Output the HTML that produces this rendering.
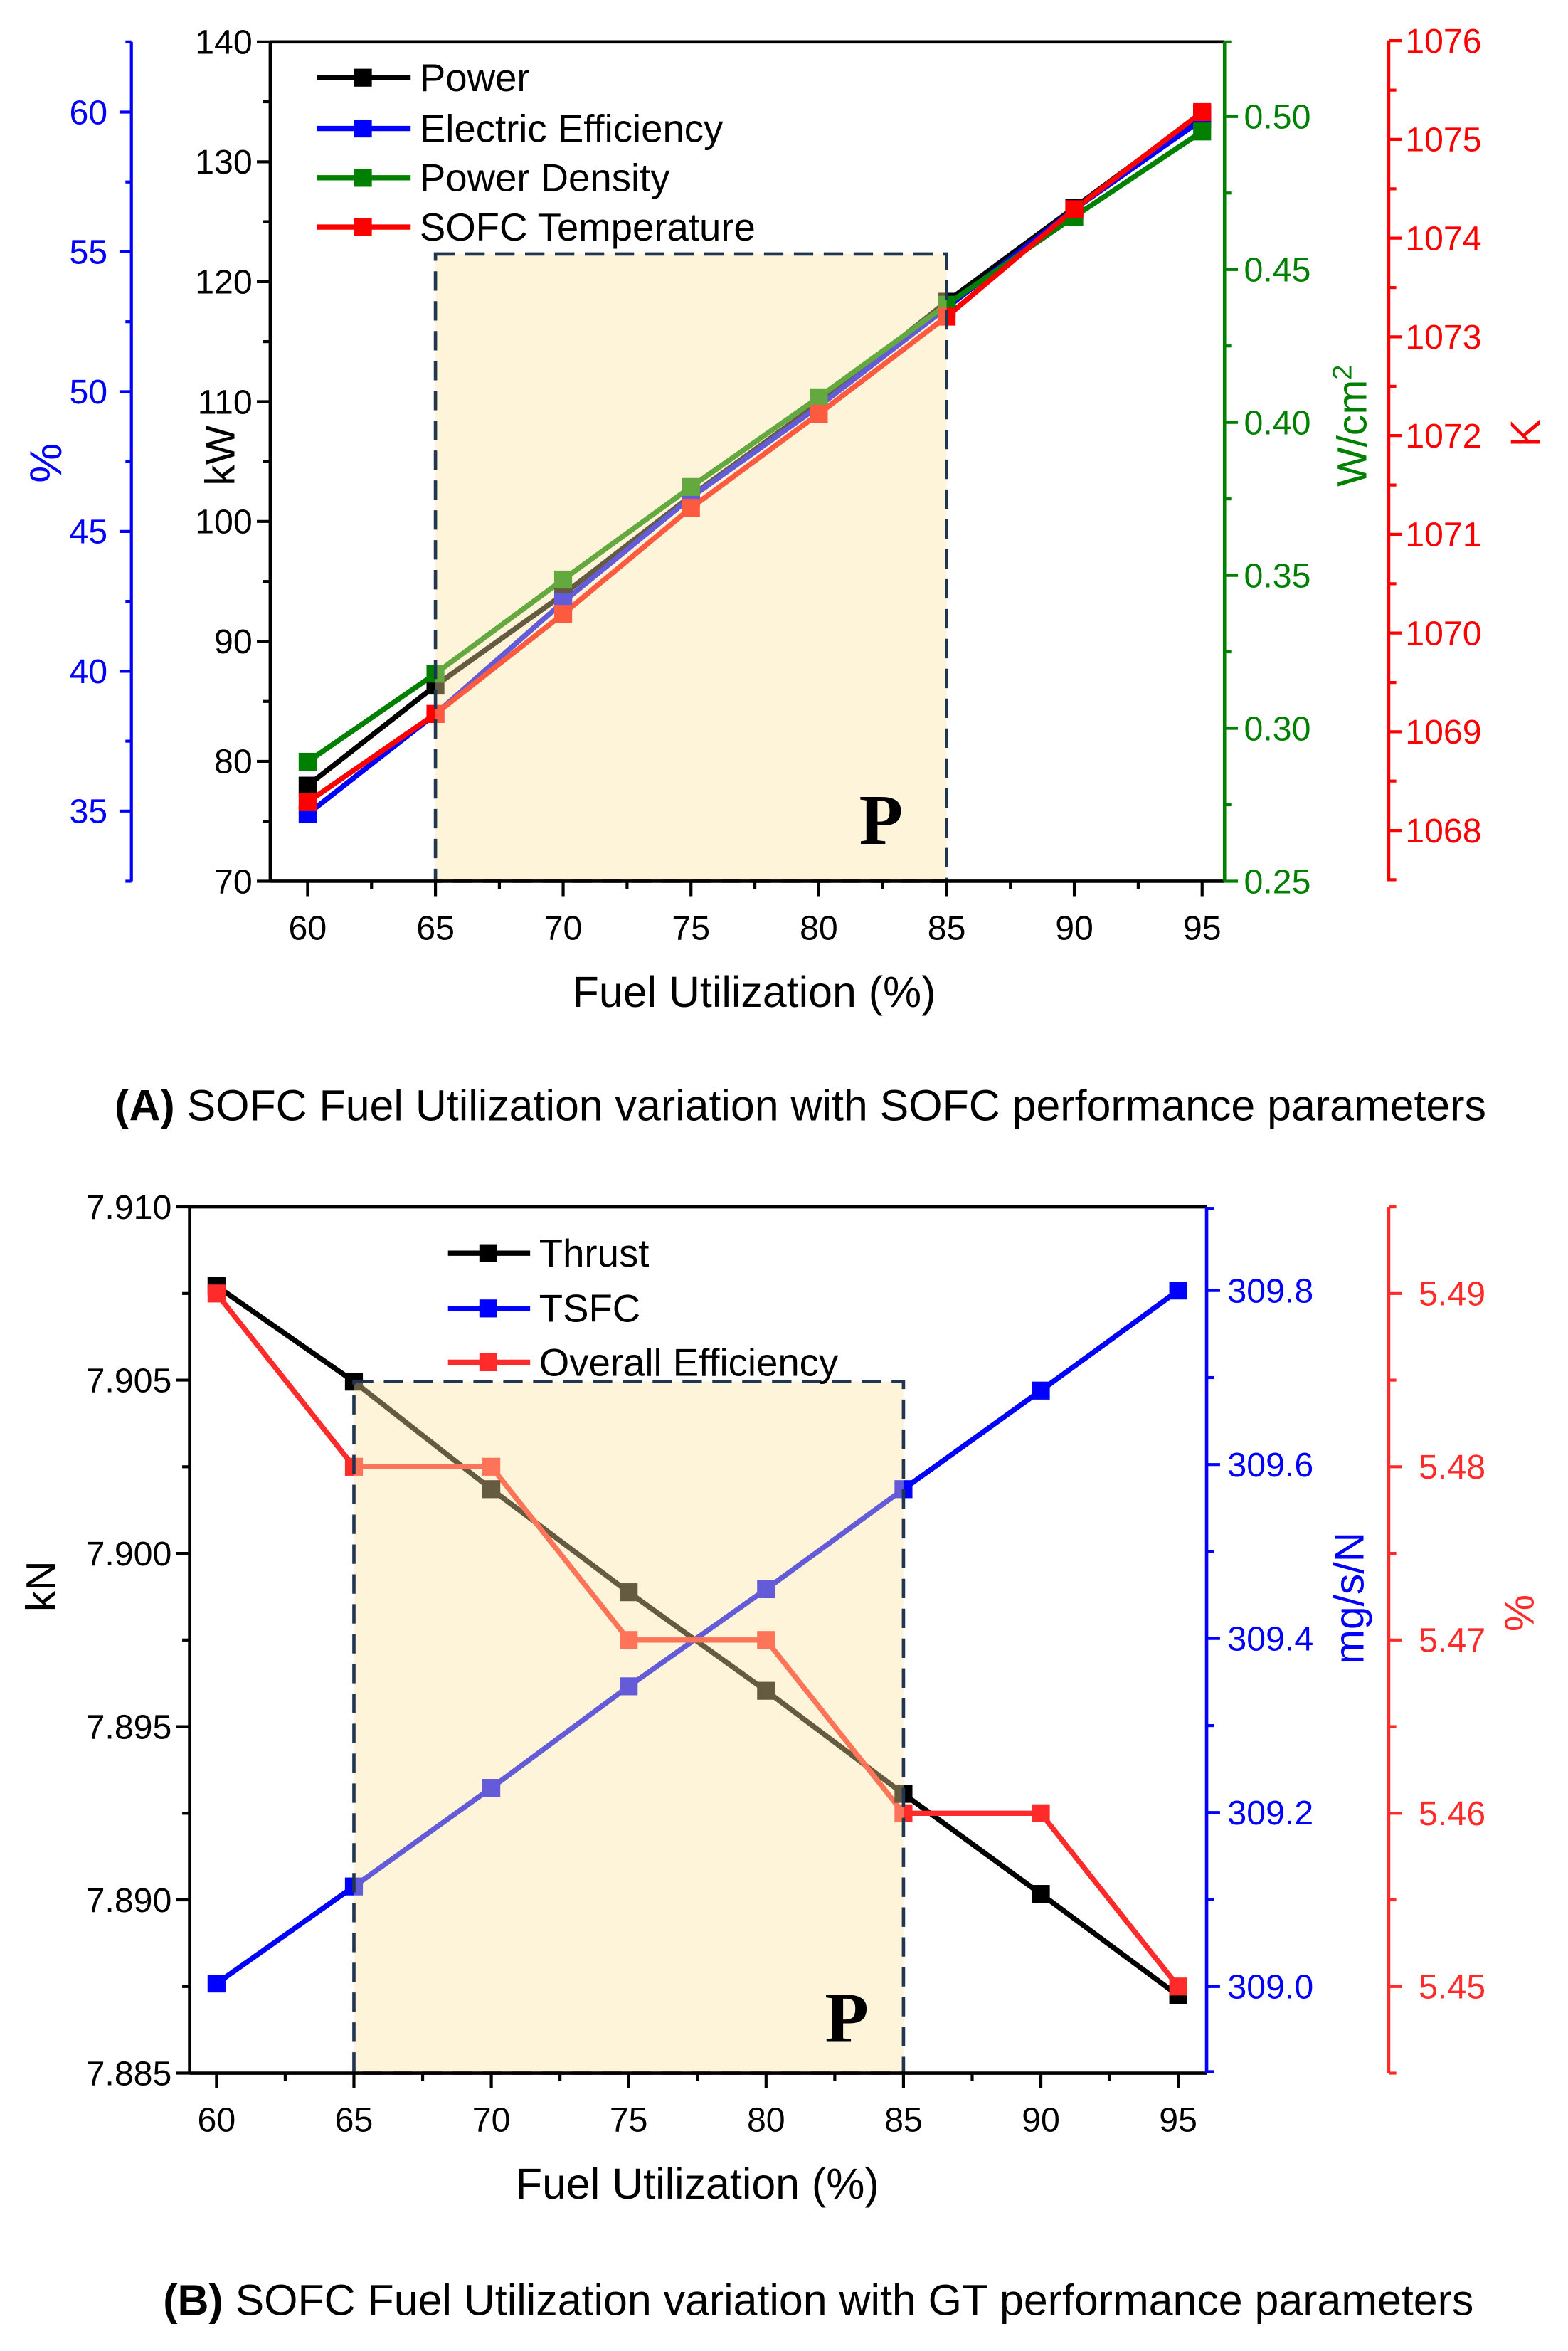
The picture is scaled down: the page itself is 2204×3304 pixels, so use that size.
<!DOCTYPE html>
<html><head><meta charset="utf-8"><style>html,body{margin:0;padding:0;background:#fff}svg{display:block}</style></head><body>
<svg xmlns="http://www.w3.org/2000/svg" width="2204" height="3304" viewBox="0 0 1050 1574" font-family="Liberation Sans, Arial, sans-serif">
<rect width="1050" height="1574" fill="#fff"/>
<!-- ================= PANEL A ================= -->
<g stroke-width="3.5" fill="none" stroke-linejoin="round">
<polyline stroke="#000" points="206,526 291.6,459 377.1,398 462.7,332 548.3,270 633.9,202 719.4,139 805,76"/>
<polyline stroke="#0000ff" points="206,545 291.6,478 377.1,403 462.7,333 548.3,272 633.9,206 719.4,140 805,80"/>
<polyline stroke="#008000" points="206,510 291.6,451 377.1,388 462.7,326 548.3,266 633.9,204 719.4,145 805,88"/>
<polyline stroke="#ff0000" points="206,537 291.6,478 377.1,411 462.7,340 548.3,277 633.9,212 719.4,140 805,75"/>
</g>
<g fill="#000"><rect x="200" y="520" width="12" height="12"/><rect x="285.6" y="453" width="12" height="12"/><rect x="371.1" y="392" width="12" height="12"/><rect x="456.7" y="326" width="12" height="12"/><rect x="542.3" y="264" width="12" height="12"/><rect x="627.9" y="196" width="12" height="12"/><rect x="713.4" y="133" width="12" height="12"/><rect x="799" y="70" width="12" height="12"/></g>
<g fill="#0000ff"><rect x="200" y="539" width="12" height="12"/><rect x="285.6" y="472" width="12" height="12"/><rect x="371.1" y="397" width="12" height="12"/><rect x="456.7" y="327" width="12" height="12"/><rect x="542.3" y="266" width="12" height="12"/><rect x="627.9" y="200" width="12" height="12"/><rect x="713.4" y="134" width="12" height="12"/><rect x="799" y="74" width="12" height="12"/></g>
<g fill="#008000"><rect x="200" y="504" width="12" height="12"/><rect x="285.6" y="445" width="12" height="12"/><rect x="371.1" y="382" width="12" height="12"/><rect x="456.7" y="320" width="12" height="12"/><rect x="542.3" y="260" width="12" height="12"/><rect x="627.9" y="198" width="12" height="12"/><rect x="713.4" y="139" width="12" height="12"/><rect x="799" y="82" width="12" height="12"/></g>
<g fill="#ff0000"><rect x="200" y="531" width="12" height="12"/><rect x="285.6" y="472" width="12" height="12"/><rect x="371.1" y="405" width="12" height="12"/><rect x="456.7" y="334" width="12" height="12"/><rect x="542.3" y="271" width="12" height="12"/><rect x="627.9" y="206" width="12" height="12"/><rect x="713.4" y="134" width="12" height="12"/><rect x="799" y="69" width="12" height="12"/></g>
<rect x="291.6" y="170" width="342.3" height="420" fill="#fbe3a0" fill-opacity="0.4"/>
<rect x="291.6" y="170" width="342.3" height="420" fill="none" stroke="#1f3550" stroke-width="2.2" stroke-dasharray="13,7"/>
<text x="590" y="565" font-family="Liberation Serif, serif" font-weight="bold" font-size="48" text-anchor="middle">P</text>
<line x1="181" y1="28" x2="820" y2="28" stroke="#000" stroke-width="2.2"/>
<line x1="181" y1="28" x2="181" y2="590" stroke="#000" stroke-width="2.2"/>
<line x1="181" y1="590" x2="820" y2="590" stroke="#000" stroke-width="2.2"/>
<line x1="820" y1="28" x2="820" y2="590" stroke="#008000" stroke-width="2.2"/>
<g stroke="#000" stroke-width="2">
<line x1="172" y1="28" x2="181" y2="28"/><line x1="172" y1="108.3" x2="181" y2="108.3"/><line x1="172" y1="188.6" x2="181" y2="188.6"/><line x1="172" y1="268.9" x2="181" y2="268.9"/><line x1="172" y1="349.1" x2="181" y2="349.1"/><line x1="172" y1="429.4" x2="181" y2="429.4"/><line x1="172" y1="509.7" x2="181" y2="509.7"/><line x1="172" y1="590" x2="181" y2="590"/>
<line x1="176" y1="68.1" x2="181" y2="68.1"/><line x1="176" y1="148.4" x2="181" y2="148.4"/><line x1="176" y1="228.7" x2="181" y2="228.7"/><line x1="176" y1="309" x2="181" y2="309"/><line x1="176" y1="389.3" x2="181" y2="389.3"/><line x1="176" y1="469.6" x2="181" y2="469.6"/><line x1="176" y1="549.9" x2="181" y2="549.9"/>
<line x1="206" y1="590" x2="206" y2="600"/><line x1="291.6" y1="590" x2="291.6" y2="600"/><line x1="377.1" y1="590" x2="377.1" y2="600"/><line x1="462.7" y1="590" x2="462.7" y2="600"/><line x1="548.3" y1="590" x2="548.3" y2="600"/><line x1="633.9" y1="590" x2="633.9" y2="600"/><line x1="719.4" y1="590" x2="719.4" y2="600"/><line x1="805" y1="590" x2="805" y2="600"/>
<line x1="248.8" y1="590" x2="248.8" y2="595"/><line x1="334.4" y1="590" x2="334.4" y2="595"/><line x1="419.9" y1="590" x2="419.9" y2="595"/><line x1="505.5" y1="590" x2="505.5" y2="595"/><line x1="591.1" y1="590" x2="591.1" y2="595"/><line x1="676.6" y1="590" x2="676.6" y2="595"/><line x1="762.2" y1="590" x2="762.2" y2="595"/>
</g>
<g font-size="23" text-anchor="end" fill="#000">
<text x="169" y="36">140</text><text x="169" y="116.3">130</text><text x="169" y="196.6">120</text><text x="169" y="276.9">110</text><text x="169" y="357.1">100</text><text x="169" y="437.4">90</text><text x="169" y="517.7">80</text><text x="169" y="598">70</text>
</g>
<g font-size="23" text-anchor="middle" fill="#000">
<text x="206" y="629">60</text><text x="291.6" y="629">65</text><text x="377.1" y="629">70</text><text x="462.7" y="629">75</text><text x="548.3" y="629">80</text><text x="633.9" y="629">85</text><text x="719.4" y="629">90</text><text x="805" y="629">95</text>
</g>
<text x="505" y="674" font-size="29" text-anchor="middle">Fuel Utilization (%)</text>
<text transform="translate(157,305) rotate(-90)" font-size="28" text-anchor="middle">kW</text>
<g stroke="#0000ff" stroke-width="2">
<line x1="88" y1="28" x2="88" y2="590"/>
<line x1="80" y1="543" x2="88" y2="543"/><line x1="80" y1="449.4" x2="88" y2="449.4"/><line x1="80" y1="355.8" x2="88" y2="355.8"/><line x1="80" y1="262.2" x2="88" y2="262.2"/><line x1="80" y1="168.6" x2="88" y2="168.6"/><line x1="80" y1="75" x2="88" y2="75"/>
<line x1="84" y1="590" x2="88" y2="590"/><line x1="84" y1="496.2" x2="88" y2="496.2"/><line x1="84" y1="402.6" x2="88" y2="402.6"/><line x1="84" y1="309" x2="88" y2="309"/><line x1="84" y1="215.4" x2="88" y2="215.4"/><line x1="84" y1="121.8" x2="88" y2="121.8"/><line x1="84" y1="28" x2="88" y2="28"/>
</g>
<g font-size="23" text-anchor="end" fill="#0000ff">
<text x="72" y="551">35</text><text x="72" y="457.4">40</text><text x="72" y="363.8">45</text><text x="72" y="270.2">50</text><text x="72" y="176.6">55</text><text x="72" y="83">60</text>
</g>
<text transform="translate(41,310) rotate(-90)" font-size="30" text-anchor="middle" fill="#0000ff">%</text>
<g stroke="#008000" stroke-width="2">
<line x1="820" y1="590" x2="829" y2="590"/><line x1="820" y1="487.6" x2="829" y2="487.6"/><line x1="820" y1="385.2" x2="829" y2="385.2"/><line x1="820" y1="282.8" x2="829" y2="282.8"/><line x1="820" y1="180.4" x2="829" y2="180.4"/><line x1="820" y1="78" x2="829" y2="78"/>
<line x1="820" y1="538.8" x2="825" y2="538.8"/><line x1="820" y1="436.4" x2="825" y2="436.4"/><line x1="820" y1="334" x2="825" y2="334"/><line x1="820" y1="231.6" x2="825" y2="231.6"/><line x1="820" y1="129.2" x2="825" y2="129.2"/><line x1="820" y1="28" x2="825" y2="28"/>
</g>
<g font-size="23" fill="#008000">
<text x="833" y="598">0.25</text><text x="833" y="495.6">0.30</text><text x="833" y="393.2">0.35</text><text x="833" y="290.8">0.40</text><text x="833" y="188.4">0.45</text><text x="833" y="86">0.50</text>
</g>
<text transform="translate(915,285) rotate(-90)" font-size="28" text-anchor="middle" fill="#008000">W/cm<tspan font-size="18" dy="-10">2</tspan></text>
<g stroke="#ff0000" stroke-width="2">
<line x1="930" y1="27" x2="930" y2="590"/>
<line x1="930" y1="556" x2="939" y2="556"/><line x1="930" y1="489.9" x2="939" y2="489.9"/><line x1="930" y1="423.8" x2="939" y2="423.8"/><line x1="930" y1="357.7" x2="939" y2="357.7"/><line x1="930" y1="291.6" x2="939" y2="291.6"/><line x1="930" y1="225.5" x2="939" y2="225.5"/><line x1="930" y1="159.4" x2="939" y2="159.4"/><line x1="930" y1="93.3" x2="939" y2="93.3"/><line x1="930" y1="27.2" x2="939" y2="27.2"/>
<line x1="930" y1="589" x2="935" y2="589"/><line x1="930" y1="522.9" x2="935" y2="522.9"/><line x1="930" y1="456.9" x2="935" y2="456.9"/><line x1="930" y1="390.8" x2="935" y2="390.8"/><line x1="930" y1="324.7" x2="935" y2="324.7"/><line x1="930" y1="258.6" x2="935" y2="258.6"/><line x1="930" y1="192.5" x2="935" y2="192.5"/><line x1="930" y1="126.4" x2="935" y2="126.4"/><line x1="930" y1="60.3" x2="935" y2="60.3"/>
</g>
<g font-size="23" fill="#ff0000">
<text x="941" y="564">1068</text><text x="941" y="497.9">1069</text><text x="941" y="431.8">1070</text><text x="941" y="365.7">1071</text><text x="941" y="299.6">1072</text><text x="941" y="233.5">1073</text><text x="941" y="167.4">1074</text><text x="941" y="101.3">1075</text><text x="941" y="35.2">1076</text>
</g>
<text transform="translate(1031,290) rotate(-90)" font-size="28" text-anchor="middle" fill="#ff0000">K</text>
<g stroke-width="3.5">
<line x1="212" y1="52" x2="275" y2="52" stroke="#000"/><line x1="212" y1="86" x2="275" y2="86" stroke="#0000ff"/><line x1="212" y1="119" x2="275" y2="119" stroke="#008000"/><line x1="212" y1="152" x2="275" y2="152" stroke="#ff0000"/>
</g>
<rect x="237" y="46" width="12" height="12" fill="#000"/><rect x="237" y="80" width="12" height="12" fill="#0000ff"/><rect x="237" y="113" width="12" height="12" fill="#008000"/><rect x="237" y="146" width="12" height="12" fill="#ff0000"/>
<g font-size="26" fill="#000">
<text x="281" y="61">Power</text><text x="281" y="95">Electric Efficiency</text><text x="281" y="128">Power Density</text><text x="281" y="161">SOFC Temperature</text>
</g>
<text x="536" y="750" font-size="29" text-anchor="middle"><tspan font-weight="bold">(A)</tspan> SOFC Fuel Utilization variation with SOFC performance parameters</text>

<!-- ================= PANEL B ================= -->
<g stroke-width="3.5" fill="none" stroke-linejoin="round">
<polyline stroke="#000" points="145,861 237,925 329,997 421,1066 513,1132 605,1201 697,1268 789,1336"/>
<polyline stroke="#0000ff" points="145,1328 237,1263 329,1197 421,1129 513,1064 605,997 697,931 789,864"/>
<polyline stroke="#ff2a2a" points="145,866 237,982 329,982 421,1098 513,1098 605,1214 697,1214 789,1330"/>
</g>
<g fill="#000"><rect x="139" y="855" width="12" height="12"/><rect x="231" y="919" width="12" height="12"/><rect x="323" y="991" width="12" height="12"/><rect x="415" y="1060" width="12" height="12"/><rect x="507" y="1126" width="12" height="12"/><rect x="599" y="1195" width="12" height="12"/><rect x="691" y="1262" width="12" height="12"/><rect x="783" y="1330" width="12" height="12"/></g>
<g fill="#0000ff"><rect x="139" y="1322" width="12" height="12"/><rect x="231" y="1257" width="12" height="12"/><rect x="323" y="1191" width="12" height="12"/><rect x="415" y="1123" width="12" height="12"/><rect x="507" y="1058" width="12" height="12"/><rect x="599" y="991" width="12" height="12"/><rect x="691" y="925" width="12" height="12"/><rect x="783" y="858" width="12" height="12"/></g>
<g fill="#ff2a2a"><rect x="139" y="860" width="12" height="12"/><rect x="231" y="976" width="12" height="12"/><rect x="323" y="976" width="12" height="12"/><rect x="415" y="1092" width="12" height="12"/><rect x="507" y="1092" width="12" height="12"/><rect x="599" y="1208" width="12" height="12"/><rect x="691" y="1208" width="12" height="12"/><rect x="783" y="1324" width="12" height="12"/></g>
<rect x="237" y="925" width="368" height="463" fill="#fbe3a0" fill-opacity="0.4"/>
<rect x="237" y="925" width="368" height="463" fill="none" stroke="#1f3550" stroke-width="2.2" stroke-dasharray="13,7"/>
<text x="567" y="1367" font-family="Liberation Serif, serif" font-weight="bold" font-size="48" text-anchor="middle">P</text>
<line x1="127" y1="808" x2="808" y2="808" stroke="#000" stroke-width="2.2"/>
<line x1="127" y1="808" x2="127" y2="1388" stroke="#000" stroke-width="2.2"/>
<line x1="127" y1="1388" x2="808" y2="1388" stroke="#000" stroke-width="2.2"/>
<line x1="808" y1="808" x2="808" y2="1388" stroke="#0000ff" stroke-width="2.2"/>
<g stroke="#000" stroke-width="2">
<line x1="118" y1="808" x2="127" y2="808"/><line x1="118" y1="924" x2="127" y2="924"/><line x1="118" y1="1040" x2="127" y2="1040"/><line x1="118" y1="1156" x2="127" y2="1156"/><line x1="118" y1="1272" x2="127" y2="1272"/><line x1="118" y1="1388" x2="127" y2="1388"/>
<line x1="122" y1="866" x2="127" y2="866"/><line x1="122" y1="982" x2="127" y2="982"/><line x1="122" y1="1098" x2="127" y2="1098"/><line x1="122" y1="1214" x2="127" y2="1214"/><line x1="122" y1="1330" x2="127" y2="1330"/>
<line x1="145" y1="1388" x2="145" y2="1398"/><line x1="237" y1="1388" x2="237" y2="1398"/><line x1="329" y1="1388" x2="329" y2="1398"/><line x1="421" y1="1388" x2="421" y2="1398"/><line x1="513" y1="1388" x2="513" y2="1398"/><line x1="605" y1="1388" x2="605" y2="1398"/><line x1="697" y1="1388" x2="697" y2="1398"/><line x1="789" y1="1388" x2="789" y2="1398"/>
<line x1="191" y1="1388" x2="191" y2="1393"/><line x1="283" y1="1388" x2="283" y2="1393"/><line x1="375" y1="1388" x2="375" y2="1393"/><line x1="467" y1="1388" x2="467" y2="1393"/><line x1="559" y1="1388" x2="559" y2="1393"/><line x1="651" y1="1388" x2="651" y2="1393"/><line x1="743" y1="1388" x2="743" y2="1393"/>
</g>
<g font-size="23" text-anchor="end" fill="#000">
<text x="115" y="816">7.910</text><text x="115" y="932">7.905</text><text x="115" y="1048">7.900</text><text x="115" y="1164">7.895</text><text x="115" y="1280">7.890</text><text x="115" y="1396">7.885</text>
</g>
<g font-size="23" text-anchor="middle" fill="#000">
<text x="145" y="1427">60</text><text x="237" y="1427">65</text><text x="329" y="1427">70</text><text x="421" y="1427">75</text><text x="513" y="1427">80</text><text x="605" y="1427">85</text><text x="697" y="1427">90</text><text x="789" y="1427">95</text>
</g>
<text x="467" y="1472" font-size="29" text-anchor="middle">Fuel Utilization (%)</text>
<text transform="translate(37,1062) rotate(-90)" font-size="28" text-anchor="middle">kN</text>
<g stroke="#0000ff" stroke-width="2">
<line x1="808" y1="1330" x2="817" y2="1330"/><line x1="808" y1="1213.5" x2="817" y2="1213.5"/><line x1="808" y1="1097" x2="817" y2="1097"/><line x1="808" y1="980.5" x2="817" y2="980.5"/><line x1="808" y1="864" x2="817" y2="864"/>
<line x1="808" y1="1387" x2="813" y2="1387"/><line x1="808" y1="1271.8" x2="813" y2="1271.8"/><line x1="808" y1="1155.3" x2="813" y2="1155.3"/><line x1="808" y1="1038.8" x2="813" y2="1038.8"/><line x1="808" y1="922.3" x2="813" y2="922.3"/><line x1="808" y1="809" x2="813" y2="809"/>
</g>
<g font-size="23" fill="#0000ff">
<text x="822" y="1338">309.0</text><text x="822" y="1221.5">309.2</text><text x="822" y="1105">309.4</text><text x="822" y="988.5">309.6</text><text x="822" y="872">309.8</text>
</g>
<text transform="translate(913,1070) rotate(-90)" font-size="28" text-anchor="middle" fill="#0000ff">mg/s/N</text>
<g stroke="#ff2a2a" stroke-width="2">
<line x1="930" y1="808" x2="930" y2="1388"/>
<line x1="930" y1="1330" x2="939" y2="1330"/><line x1="930" y1="1214" x2="939" y2="1214"/><line x1="930" y1="1098" x2="939" y2="1098"/><line x1="930" y1="982" x2="939" y2="982"/><line x1="930" y1="866" x2="939" y2="866"/>
<line x1="930" y1="1388" x2="935" y2="1388"/><line x1="930" y1="1272" x2="935" y2="1272"/><line x1="930" y1="1156" x2="935" y2="1156"/><line x1="930" y1="1040" x2="935" y2="1040"/><line x1="930" y1="924" x2="935" y2="924"/><line x1="930" y1="808" x2="935" y2="808"/>
</g>
<g font-size="23" fill="#ff2a2a">
<text x="950" y="1338">5.45</text><text x="950" y="1222">5.46</text><text x="950" y="1106">5.47</text><text x="950" y="990">5.48</text><text x="950" y="874">5.49</text>
</g>
<text transform="translate(1027,1080) rotate(-90)" font-size="28" text-anchor="middle" fill="#ff2a2a">%</text>
<g stroke-width="3.5">
<line x1="300" y1="839" x2="355" y2="839" stroke="#000"/><line x1="300" y1="876" x2="355" y2="876" stroke="#0000ff"/><line x1="300" y1="912" x2="355" y2="912" stroke="#ff2a2a"/>
</g>
<rect x="321" y="833" width="12" height="12" fill="#000"/><rect x="321" y="870" width="12" height="12" fill="#0000ff"/><rect x="321" y="906" width="12" height="12" fill="#ff2a2a"/>
<g font-size="26" fill="#000">
<text x="361" y="848">Thrust</text><text x="361" y="885">TSFC</text><text x="361" y="921">Overall Efficiency</text>
</g>
<text x="548" y="1550" font-size="29" text-anchor="middle"><tspan font-weight="bold">(B)</tspan> SOFC Fuel Utilization variation with GT performance parameters</text>
</svg>
</body></html>
